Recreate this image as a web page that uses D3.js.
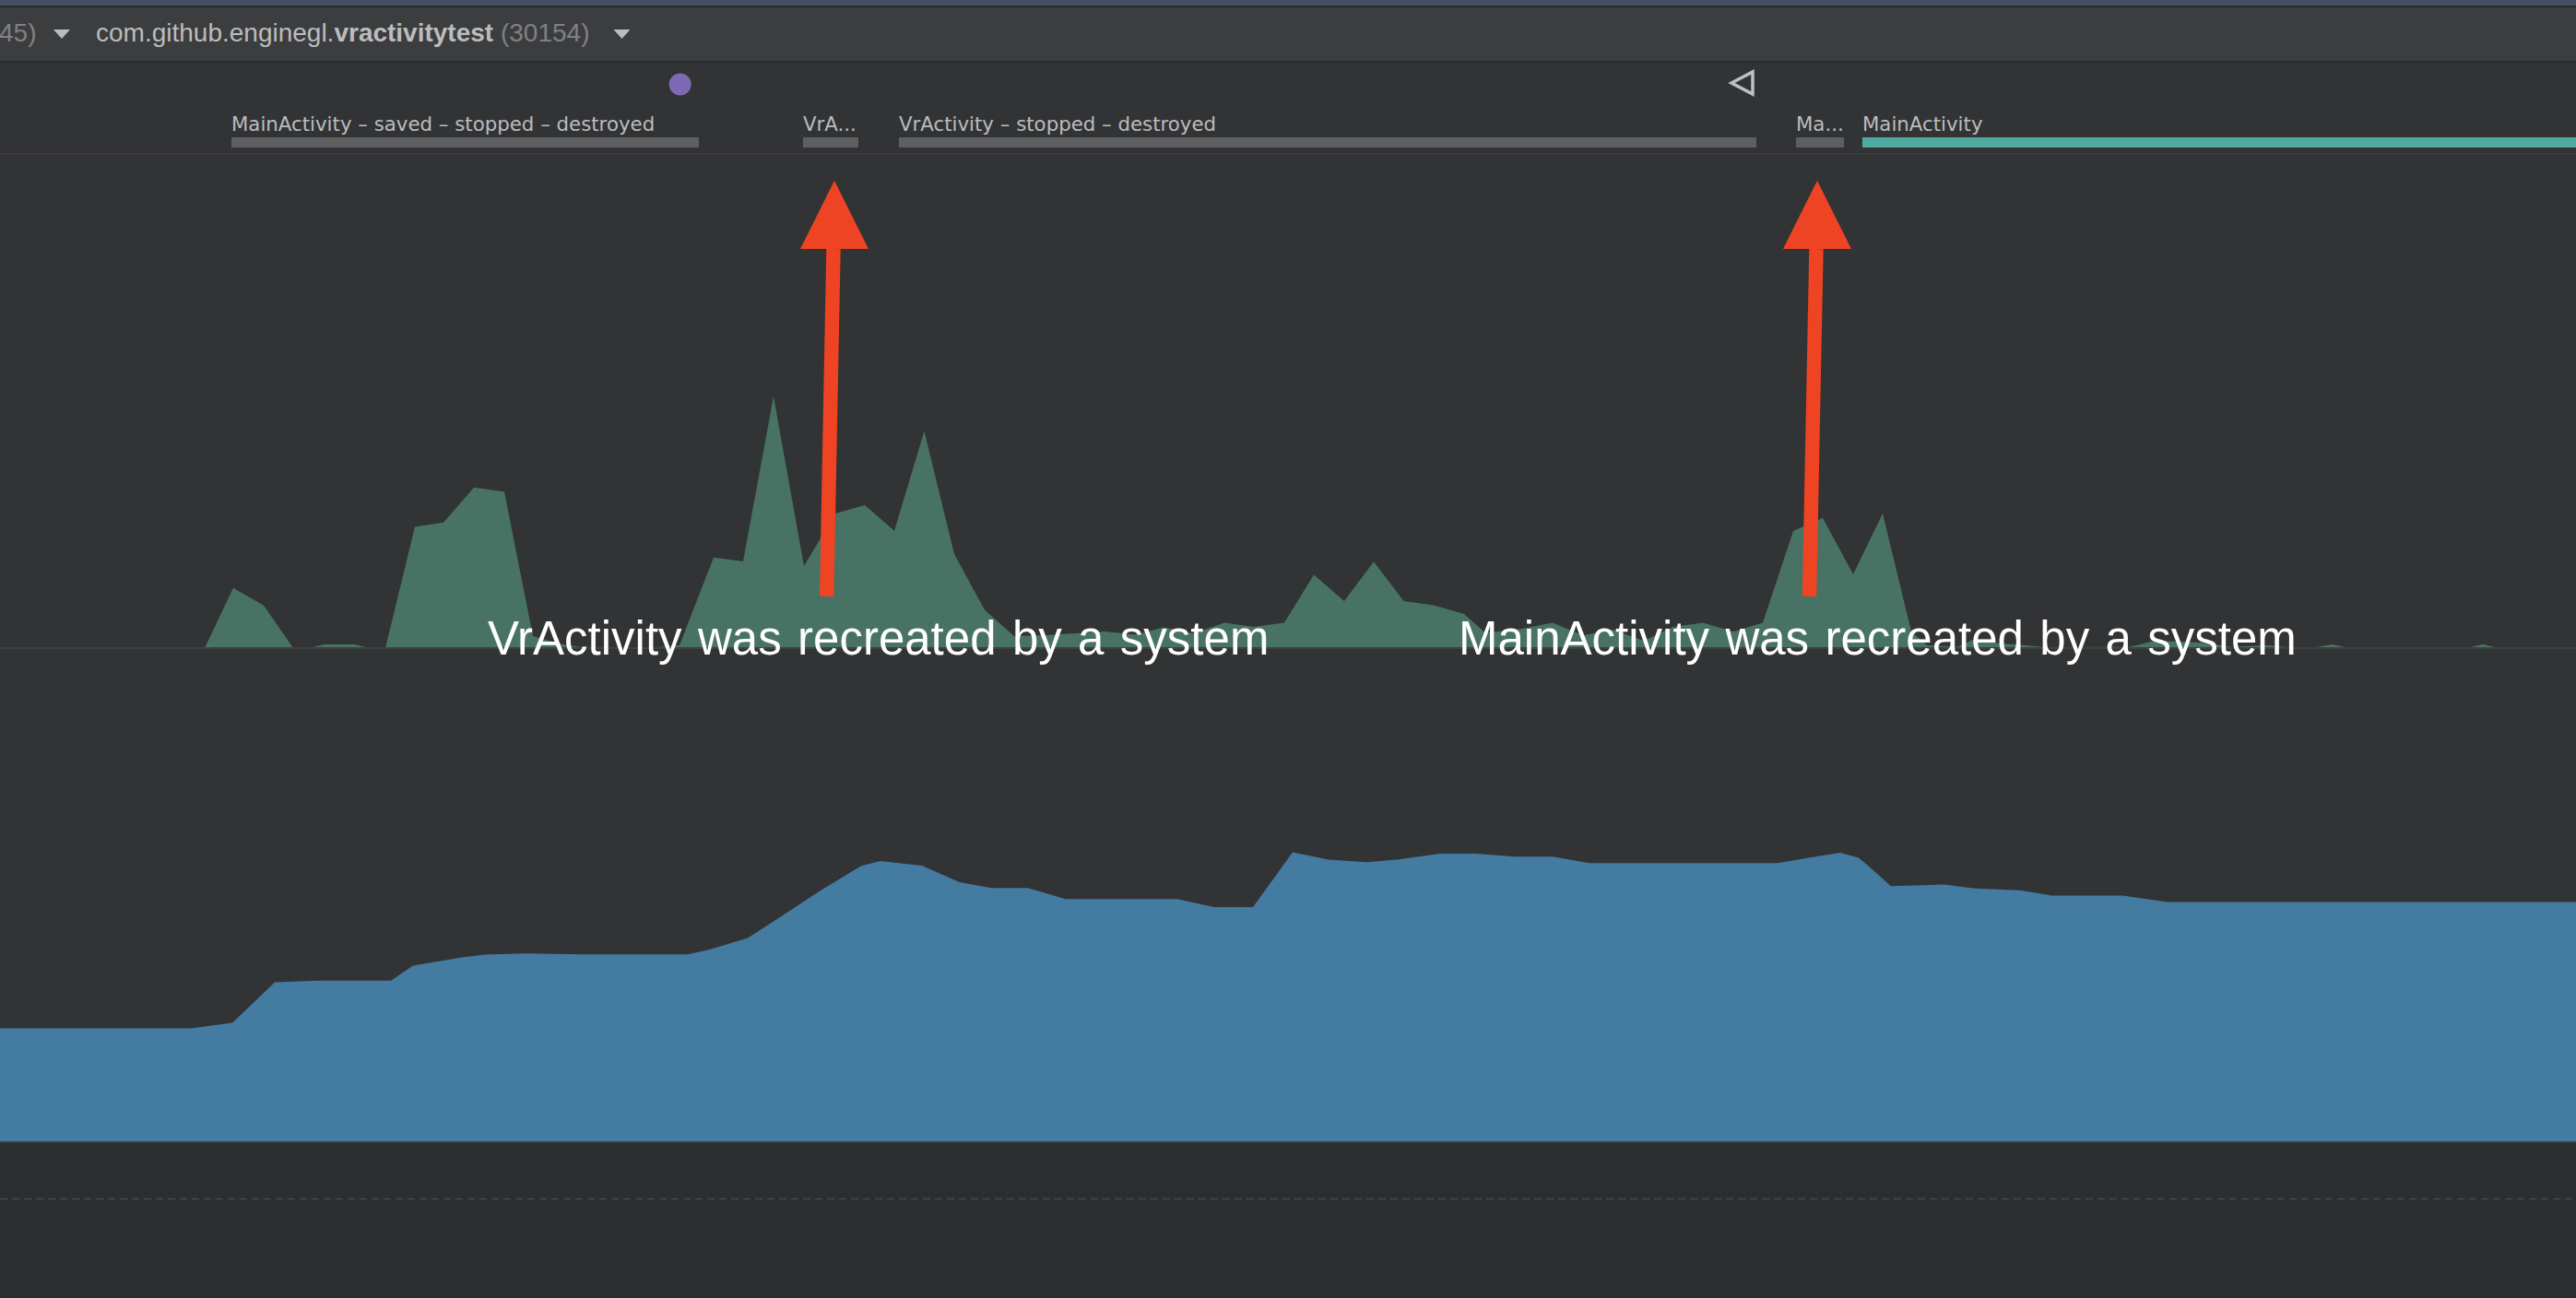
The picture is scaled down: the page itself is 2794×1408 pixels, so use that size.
<!DOCTYPE html>
<html>
<head>
<meta charset="utf-8">
<title>Profiler timeline</title>
<script src="https://cdn.jsdelivr.net/npm/d3@7"></script>
<style>
  html, body { margin: 0; padding: 0; background: #323335; overflow: hidden; }
  svg { display: block; }
</style>
</head>
<body>
<div id="chart"></div>
<script>
var svgWidth = 2794;
var svgHeight = 1408;

// cpu track, time in tenths of a pixel-second, load in track units
var cpuTime = [0, 22.2, 25.3, 28.6, 31.8, 33.5, 35.2, 38.4, 40.1, 41.8, 45.0, 48.1, 51.4, 54.7, 57.8, 61.0, 63.0, 71.2, 73.7, 77.4, 80.6, 83.9, 87.2, 90.6, 93.8, 97.0, 100.25, 103.5, 106.8, 110.0, 113.4, 119.8, 123.2, 126.2, 129.5, 132.8, 136.0, 139.3, 142.5, 145.8, 149.0, 152.25, 155.5, 158.8, 161.1, 164.8, 168.4, 171.7, 174.9, 178.3, 181.5, 184.7, 188.0, 191.2, 194.5, 197.7, 201.0, 204.2, 207.3, 209.0, 212.3, 214.0, 217.0, 219.7, 221.7, 231.0, 233.7, 238.7, 242.0, 246.0, 248.0, 251.3, 253.0, 254.7, 267.6, 269.3, 271.0, 279.4];
var cpuLoad = [0, 0, 32.6, 23.1, 0, 0, 2, 2, 0, 0, 65.8, 68.1, 87.1, 84.8, 6.5, 2, 0.5, 0.5, 1.5, 49.1, 47, 136.5, 44.5, 73, 77.5, 63.6, 117.6, 51, 20.6, 6.5, 7, 9, 7.2, 11.2, 7.9, 13.7, 11.5, 13.7, 39.7, 25.5, 46.9, 25.5, 23.2, 18.5, 8.2, 10.2, 13.7, 6.9, 10, 4, 11.5, 13.7, 8.9, 13.7, 63.5, 70.5, 40, 73, 9, 1.5, 0.6, 4.5, 2.5, 1.5, 0.5, 0.6, 4, 3, 0.6, 1.5, 0.5, 0.5, 2, 0, 0, 2, 0, 0];

// memory track
var memTime = [0, 20.7, 25.2, 29.8, 34.4, 42.4, 44.8, 50.1, 52.6, 57.1, 63.1, 74.6, 76.8, 81.1, 84.2, 89.0, 93.4, 95.5, 100.0, 104.0, 107.5, 111.5, 115.6, 127.7, 131.7, 135.9, 140.2, 144.1, 148.3, 151.7, 156.2, 160.1, 164.3, 168.4, 172.4, 192.8, 196.3, 199.6, 201.6, 202.8, 205.1, 210.9, 212.8, 214.3, 219.1, 222.6, 230.25, 235.1, 279.4];
var memUsed = [61.2, 61.2, 64.2, 86.2, 87.1, 87.1, 95.2, 99.7, 101.2, 101.9, 101.4, 101.4, 103.8, 110.3, 120.2, 136, 149.4, 152, 149.5, 140.6, 137.4, 137.4, 131.4, 131.4, 127, 127, 156.8, 152.8, 151.4, 152.9, 156, 156, 154.4, 154.4, 150.9, 150.9, 153.9, 156.5, 153.7, 148.6, 138.4, 139.2, 138, 137.1, 136.1, 133.3, 133.3, 129.7, 129.7];

// activity lifecycle bars
var activityNames = ["MainActivity – saved – stopped – destroyed", "VrA...", "VrActivity – stopped – destroyed", "Ma...", "MainActivity"];
var activityStart = [25.1, 87.1, 97.5, 194.8, 202.0];
var activityEnd = [75.8, 93.1, 190.5, 200.0, 279.4];
var activityLive = [false, false, false, false, true];

// annotations drawn on top of the screenshot
var noteText = ["VrActivity was recreated by a system", "MainActivity was recreated by a system"];
var noteTime = [52.9, 158.2];
var arrowFromTime = [89.67, 196.25];
var arrowToTime = [90.5, 197.1];

var svg = d3.select("#chart")
  .append("svg")
  .attr("width", svgWidth)
  .attr("height", svgHeight);

var xScale = d3.scaleLinear().domain([0, 279.4]).range([0, svgWidth]);
var cpuY = d3.scaleLinear().domain([0, 267]).range([703, 169]);
var memY = d3.scaleLinear().domain([0, 267]).range([1238, 704]);

// backgrounds
svg.append("rect").attr("width", svgWidth).attr("height", svgHeight).attr("fill", "#323335");
svg.append("rect").attr("y", 1240).attr("width", svgWidth).attr("height", svgHeight - 1240).attr("fill", "#2c2d2f");
svg.append("rect").attr("width", svgWidth).attr("height", 6).attr("fill", "#445064");
svg.append("rect").attr("y", 6).attr("width", svgWidth).attr("height", 2).attr("fill", "#2b2c2e");
svg.append("rect").attr("y", 8).attr("width", svgWidth).attr("height", 58).attr("fill", "#3c3d3f");
svg.append("rect").attr("y", 66).attr("width", svgWidth).attr("height", 2).attr("fill", "#2b2c2e");
svg.append("rect").attr("y", 166).attr("width", svgWidth).attr("height", 1.5).attr("fill", "#3c3d3f");

// toolbar
svg.append("text").attr("x", -1).attr("y", 45).attr("font-family", "Liberation Sans").attr("font-size", 28).attr("fill", "#808183").text("45)");
var title = svg.append("text")
  .attr("x", 104)
  .attr("y", 45)
  .attr("font-family", "Liberation Sans")
  .attr("font-size", 28)
  .attr("fill", "#bbbcbd");
title.append("tspan").text("com.github.enginegl.");
title.append("tspan").attr("font-weight", "bold").text("vractivitytest");
title.append("tspan").attr("fill", "#808183").text(" (30154)");

[67, 674.5].forEach(function (cx) {
  svg.append("path")
    .attr("d", d3.line()([[cx - 9, 32], [cx + 9, 32], [cx, 42]]) + "Z")
    .attr("fill", "#bbbcbd");
});

// lifecycle markers
svg.append("circle").attr("cx", xScale(73.77)).attr("cy", 91.5).attr("r", 12).attr("fill", "#7d69b5");
svg.append("path")
  .attr("d", d3.line()([[xScale(187.8), 90], [xScale(190.1), 78], [xScale(190.1), 102]]) + "Z")
  .attr("fill", "none")
  .attr("stroke", "#bfc0c1")
  .attr("stroke-width", 3.5);

// lifecycle bars and labels
activityNames.forEach(function (name, i) {
  svg.append("rect")
    .attr("x", xScale(activityStart[i]))
    .attr("y", 149)
    .attr("width", xScale(activityEnd[i]) - xScale(activityStart[i]))
    .attr("height", 11)
    .attr("fill", activityLive[i] ? "#4fab9f" : "#5e5f61");
  svg.append("text")
    .attr("x", xScale(activityStart[i]))
    .attr("y", 141.5)
    .attr("font-family", "DejaVu Sans")
    .attr("font-size", 21.3)
    .attr("fill", "#bbbcbd")
    .text(name);
});

// cpu area
var cpuArea = d3.area()
  .x(function (d) { return xScale(d[0]); })
  .y0(cpuY(0))
  .y1(function (d) { return cpuY(d[1]); });

svg.append("path")
  .attr("d", cpuArea(d3.zip(cpuTime, cpuLoad)))
  .attr("fill", "#487364");

svg.append("line")
  .attr("x1", 0).attr("x2", svgWidth)
  .attr("y1", cpuY(0)).attr("y2", cpuY(0))
  .attr("stroke", "#3f4042")
  .attr("stroke-width", 2);

// memory area
var memArea = d3.area()
  .x(function (d) { return xScale(d[0]); })
  .y0(memY(0))
  .y1(function (d) { return memY(d[1]); });

svg.append("path")
  .attr("d", memArea(d3.zip(memTime, memUsed)))
  .attr("fill", "#447ba1");

svg.append("line")
  .attr("x1", 0).attr("x2", svgWidth)
  .attr("y1", 1239).attr("y2", 1239)
  .attr("stroke", "#3d3e41")
  .attr("stroke-width", 2);

svg.append("line")
  .attr("x1", 0).attr("x2", svgWidth)
  .attr("y1", 1300.5).attr("y2", 1300.5)
  .attr("stroke", "#47484a")
  .attr("stroke-width", 1.5)
  .attr("stroke-dasharray", "8 5");

// red arrows
arrowFromTime.forEach(function (fromT, i) {
  var toT = arrowToTime[i];
  var baseY = cpuY(216.5);
  svg.append("line")
    .attr("x1", xScale(fromT)).attr("y1", cpuY(28))
    .attr("x2", xScale(toT) - 1).attr("y2", baseY)
    .attr("stroke", "#ef4423")
    .attr("stroke-width", 15.4);
  svg.append("path")
    .attr("d", d3.line()([[xScale(toT), cpuY(253.5)], [xScale(toT) - 37, baseY], [xScale(toT) + 37, baseY]]) + "Z")
    .attr("fill", "#ef4423");
});

// annotation text
noteText.forEach(function (t, i) {
  svg.append("text")
    .attr("x", xScale(noteTime[i]))
    .attr("y", 710)
    .attr("font-family", "Liberation Sans")
    .attr("font-size", 51)
    .attr("word-spacing", 3.2)
    .attr("fill", "#ffffff")
    .text(t);
});
</script>
</body>
</html>
